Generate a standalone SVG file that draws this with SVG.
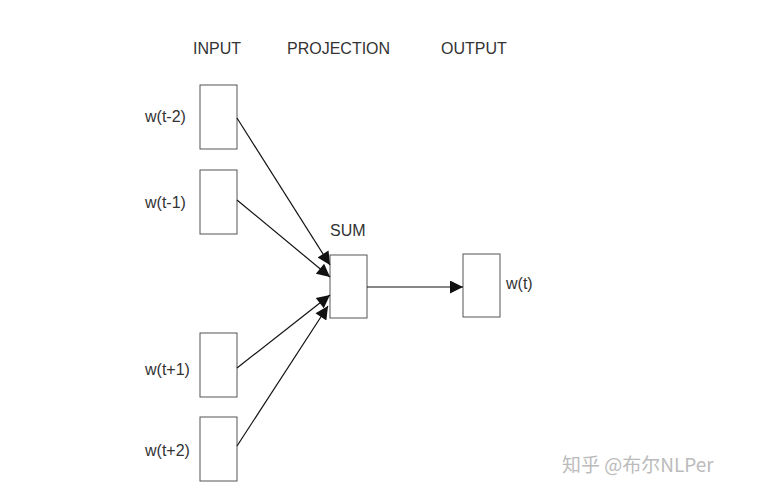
<svg xmlns="http://www.w3.org/2000/svg" width="763" height="499" viewBox="0 0 763 499">
<style>
.b{fill:#fff;stroke:#555;stroke-width:1}
.t{font-family:"Liberation Sans",Arial,sans-serif;font-size:16px;fill:#333}
.c line{stroke:#111;stroke-width:1.2}
</style>
<defs><marker id="a" viewBox="0 0 10 10" refX="10" refY="5" markerWidth="18" markerHeight="13" markerUnits="userSpaceOnUse" orient="auto"><path d="M0,0L10,5L0,10z" fill="#111"/></marker></defs>
<rect width="763" height="499" fill="#fff"/>
<text class="t" x="193" y="54">INPUT</text>
<text class="t" x="287" y="54">PROJECTION</text>
<text class="t" x="441" y="54">OUTPUT</text>
<g id="in1"><rect class="b" x="200" y="85" width="37" height="64"/><text class="t" x="145" y="122">w(t-2)</text></g>
<g id="in2"><rect class="b" x="200" y="170" width="37" height="64"/><text class="t" x="145" y="208">w(t-1)</text></g>
<g id="in3"><rect class="b" x="200" y="333" width="37" height="64"/><text class="t" x="145" y="375">w(t+1)</text></g>
<g id="in4"><rect class="b" x="200" y="417" width="37" height="64"/><text class="t" x="145" y="456">w(t+2)</text></g>
<g id="sum"><rect class="b" x="330" y="255" width="37" height="63"/><text class="t" x="330" y="236">SUM</text></g>
<g id="out"><rect class="b" x="463" y="254" width="37" height="63"/><text class="t" x="506" y="289">w(t)</text></g>
<g class="c">
<line x1="237" y1="118" x2="330" y2="265" marker-end="url(#a)"/>
<line x1="237" y1="200" x2="330" y2="277" marker-end="url(#a)"/>
<line x1="237" y1="368" x2="330" y2="295" marker-end="url(#a)"/>
<line x1="237" y1="446" x2="328" y2="306" marker-end="url(#a)"/>
<line x1="367" y1="287" x2="463" y2="287" marker-end="url(#a)"/>
</g>
<text x="562" y="472" style="font-family:'Noto Sans CJK SC',sans-serif;font-size:19px;fill:#bbb">知乎 @布尔NLPer</text>
</svg>
